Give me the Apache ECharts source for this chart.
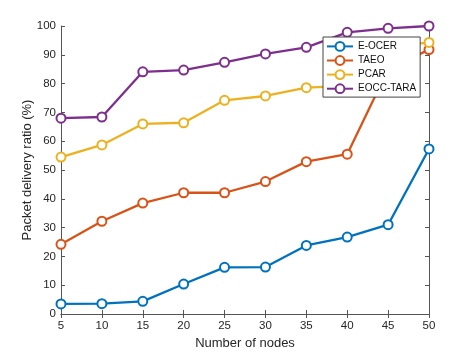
<!DOCTYPE html>
<html>
<head>
<meta charset="utf-8">
<script src="https://cdn.jsdelivr.net/npm/echarts@6/dist/echarts.min.js"></script>
<style>html,body{margin:0;padding:0;background:#fff}#c{width:474px;height:355px}</style>
</head>
<body>
<div id="c"></div>
<script>
const nodes = [5, 10, 15, 20, 25, 30, 35, 40, 45, 50];
const eocer = [3.5, 3.6, 4.4, 10.4, 16.2, 16.3, 23.8, 26.7, 31.0, 57.3];
const taeo = [24.2, 32.2, 38.5, 42.1, 42.1, 46.0, 52.9, 55.5, 85.0, 91.8];
const pcar = [54.5, 58.7, 66.0, 66.4, 74.2, 75.7, 78.6, 79.2, 92.5, 94.3];
const eoccTara = [68.0, 68.4, 84.1, 84.7, 87.4, 90.3, 92.6, 97.8, 99.2, 100];
const xTicks = [5, 10, 15, 20, 25, 30, 35, 40, 45, 50];
const yTicks = [0, 10, 20, 30, 40, 50, 60, 70, 80, 90, 100];

const names = ['E-OCER', 'TAEO', 'PCAR', 'EOCC-TARA'];
const colors = ['#0072BD', '#D95319', '#EDB120', '#7E2F8E'];
const datasets = [eocer, taeo, pcar, eoccTara];

const axisColor = '#555555';
const textColor = '#262626';
const font = 'Liberation Sans, Arial, sans-serif';

const chart = echarts.init(document.getElementById('c'), null, {renderer: 'canvas'});
const baseX = {
  type: 'value', min: 5, max: 50, interval: 5,
  axisLine: {show: true, lineStyle: {color: axisColor, width: 1}},
  axisTick: {show: true, inside: true, length: 4, lineStyle: {color: axisColor}},
  splitLine: {show: false}
};
const baseY = {
  type: 'value', min: 0, max: 100, interval: 10,
  axisLine: {show: true, lineStyle: {color: axisColor, width: 1}},
  axisTick: {show: true, inside: true, length: 4, lineStyle: {color: axisColor}},
  splitLine: {show: false}
};
chart.setOption({
  animation: false,
  backgroundColor: '#ffffff',
  grid: {left: 61, right: 45, top: 26, bottom: 39, containLabel: false},
  legend: {
    orient: 'vertical',
    left: 323, top: 37,
    z: 20,
    data: names,
    backgroundColor: '#ffffff',
    borderColor: '#444444', borderWidth: 1,
    padding: [4, 4, 3, 3],
    itemGap: 3.3,
    itemWidth: 26, itemHeight: 11,
    textStyle: {fontFamily: font, fontSize: 10, color: '#111111'}
  },
  xAxis: [
    Object.assign({}, baseX, {
      position: 'bottom',
      name: 'Number of nodes', nameLocation: 'middle', nameGap: 23,
      nameMoveOverlap: false,
      nameTextStyle: {fontFamily: font, fontSize: 13, color: textColor},
      axisLabel: {fontFamily: font, fontSize: 11.5, color: textColor, margin: 6,
        formatter: v => xTicks.includes(v) ? String(v) : ''}
    }),
    Object.assign({}, baseX, {position: 'top', axisLabel: {show: false}})
  ],
  yAxis: [
    Object.assign({}, baseY, {
      position: 'left',
      name: 'Packet delivery ratio (%)', nameLocation: 'middle', nameGap: 27,
      nameMoveOverlap: false,
      nameTextStyle: {fontFamily: font, fontSize: 13, color: textColor},
      axisLabel: {fontFamily: font, fontSize: 11.5, color: textColor, margin: 5,
        formatter: v => yTicks.includes(v) ? String(v) : ''}
    }),
    Object.assign({}, baseY, {position: 'right', axisLabel: {show: false}})
  ],
  series: names.map((n, i) => ({
    name: n,
    type: 'line',
    xAxisIndex: 0, yAxisIndex: 0,
    data: nodes.map((x, j) => [x, datasets[i][j]]),
    color: colors[i],
    lineStyle: {width: 2.3, color: colors[i]},
    symbol: 'emptyCircle',
    symbolSize: 9,
    itemStyle: {color: colors[i], borderColor: colors[i], borderWidth: 2},
    z: 2
  }))
});
</script>
</body>
</html>
